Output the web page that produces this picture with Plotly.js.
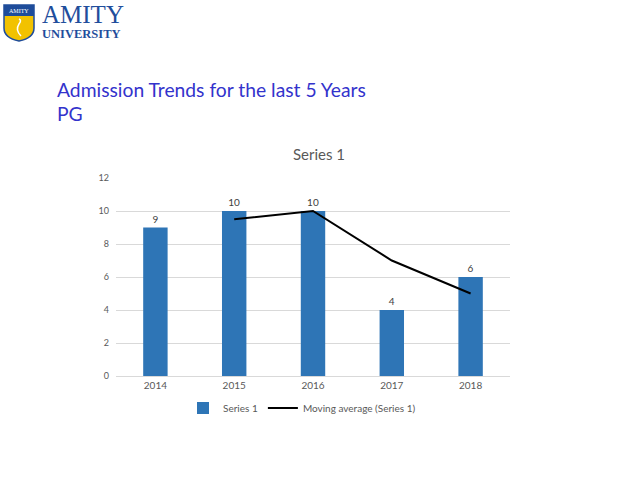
<!DOCTYPE html>
<html><head><meta charset="utf-8">
<script src="https://cdn.plot.ly/plotly-3.0.1.min.js"></script>
<style>html,body{margin:0;padding:0;background:#fff;}#chart{width:638px;height:478px;}</style>
</head><body><div id="chart"></div>
<script>
var years = ['2014','2015','2016','2017','2018'];
var series1 = [9, 10, 10, 4, 6];
var maYears = ['2015','2016','2017','2018'];
var movingAvg = [9.5, 10, 7, 5];
var yTicks = [0, 2, 4, 6, 8, 10, 12];

var W = 638, H = 478, ML = 116, MR = 128, MT = 178, MB = 102;
var PW = W - ML - MR, PH = H - MT - MB;
function px(x){ return (x - ML) / PW; }
function py(y){ return (H - MB - y) / PH; }

var bars = {
  type: 'bar', x: years, y: series1, name: 'Series 1',
  marker: {color: '#2E75B6'}, width: 0.31,
  text: series1.map(String), textposition: 'outside', cliponaxis: false,
  textfont: {family: 'Lato, sans-serif', size: 10, color: '#404040'},
  hoverinfo: 'none'
};
var line = {
  type: 'scatter', mode: 'lines', x: maYears, y: movingAvg,
  name: 'Moving average (Series 1)',
  line: {color: '#000000', width: 2}, hoverinfo: 'none'
};

function P(x, y){ return px(x).toFixed(5) + ',' + py(y).toFixed(5); }
var shieldPath = 'M' + P(4,5) + ' L' + P(34,5) + ' L' + P(34,28) + ' Q' + P(34,38) + ' ' + P(19,41) +
  ' Q' + P(4,38) + ' ' + P(4,28) + ' Z';
var bandPath = 'M' + P(4,5) + ' L' + P(34,5) + ' L' + P(34,16) + ' L' + P(4,16) + ' Z';
var swanPath = 'M' + P(21,36) + ' Q' + P(15,30) + ' ' + P(19,24) + ' Q' + P(22,20) + ' ' + P(19,19);

var layout = {
  width: W, height: H,
  margin: {l: ML, r: MR, t: MT, b: MB, pad: 0},
  paper_bgcolor: '#ffffff', plot_bgcolor: '#ffffff',
  font: {family: 'Lato, sans-serif', color: '#595959', size: 10},
  title: {text: 'Series 1', x: px(313), xanchor: 'center', y: 1 - 155 / H, yanchor: 'middle',
    font: {family: 'Lato, sans-serif', size: 15, color: '#595959'}},
  showlegend: true,
  legend: {orientation: 'h', x: px(302), xanchor: 'center', y: py(408), yanchor: 'middle',
    font: {family: 'Lato, sans-serif', size: 10, color: '#595959'}, traceorder: 'normal'},
  xaxis: {type: 'category', showgrid: false, showline: true, linecolor: '#D9D9D9', linewidth: 1,
    ticks: '', tickfont: {size: 10, color: '#595959'}, fixedrange: true},
  yaxis: {range: [0, 12], tickvals: yTicks, showgrid: true, gridcolor: '#D9D9D9', gridwidth: 1,
    zeroline: false, showline: false, ticks: '', ticklen: 0, tickfont: {size: 9, color: '#595959'},
    ticklabelstandoff: 6, fixedrange: true},
  bargap: 0.69,
  shapes: [
    {type: 'path', xref: 'paper', yref: 'paper', path: shieldPath, fillcolor: '#F2C200', line: {color: '#1E4C9A', width: 1.5}},
    {type: 'path', xref: 'paper', yref: 'paper', path: bandPath, fillcolor: '#1E4C9A', line: {width: 0}},
    {type: 'path', xref: 'paper', yref: 'paper', path: swanPath, line: {color: '#ffffff', width: 1.5}}
  ],
  annotations: [
    {xref: 'paper', yref: 'paper', x: px(19), y: py(10.5), xanchor: 'center', yanchor: 'middle', showarrow: false,
      text: 'AMITY', font: {family: 'Liberation Serif, serif', size: 6, color: '#ffffff'}},
    {xref: 'paper', yref: 'paper', x: px(40), y: py(15), xanchor: 'left', yanchor: 'middle', showarrow: false,
      text: 'AMITY', font: {family: 'Liberation Serif, serif', size: 25, color: '#1F4E9C'}},
    {xref: 'paper', yref: 'paper', x: px(40), y: py(34), xanchor: 'left', yanchor: 'middle', showarrow: false,
      text: '<b>UNIVERSITY</b>', font: {family: 'Liberation Serif, serif', size: 12.5, color: '#1F4E9C'}},
    {xref: 'paper', yref: 'paper', x: px(55), y: py(89), xanchor: 'left', yanchor: 'middle', showarrow: false,
      text: 'Admission Trends for the last 5 Years', font: {family: 'Lato, sans-serif', size: 19.3, color: '#3333CC'}},
    {xref: 'paper', yref: 'paper', x: px(55), y: py(113), xanchor: 'left', yanchor: 'middle', showarrow: false,
      text: 'PG', font: {family: 'Lato, sans-serif', size: 19.3, color: '#3333CC'}}
  ]
};
Plotly.newPlot('chart', [bars, line], layout, {displayModeBar: false, staticPlot: true});
</script></body></html>
